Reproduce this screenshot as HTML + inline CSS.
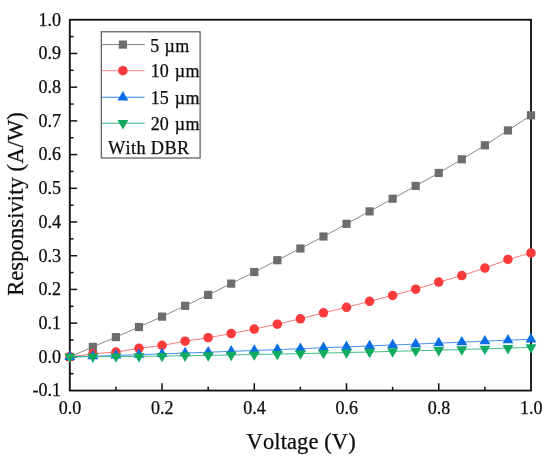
<!DOCTYPE html>
<html lang="en"><head><meta charset="utf-8"><title>Responsivity vs Voltage</title>
<style>html,body{margin:0;padding:0;background:#fff}svg{display:block}text{font-family:"Liberation Serif","Times New Roman",serif;fill:#0c0c0c;stroke:#0c0c0c;stroke-width:0.25px}</style>
</head><body>
<svg width="550" height="460" viewBox="0 0 550 460">
<rect width="550" height="460" fill="#fff"/>
<g stroke="#111" stroke-width="1.85" fill="none" stroke-linecap="butt">
<rect x="69.8" y="19.75" width="461.2" height="370.81"/>
</g>
<g stroke="#111" stroke-width="1.5" fill="none">
<line x1="69.8" y1="373.71" x2="73.55" y2="373.71"/>
<line x1="69.8" y1="356.85" x2="77.15" y2="356.85"/>
<line x1="69.8" y1="340" x2="73.55" y2="340"/>
<line x1="69.8" y1="323.14" x2="77.15" y2="323.14"/>
<line x1="69.8" y1="306.29" x2="73.55" y2="306.29"/>
<line x1="69.8" y1="289.43" x2="77.15" y2="289.43"/>
<line x1="69.8" y1="272.58" x2="73.55" y2="272.58"/>
<line x1="69.8" y1="255.72" x2="77.15" y2="255.72"/>
<line x1="69.8" y1="238.87" x2="73.55" y2="238.87"/>
<line x1="69.8" y1="222.01" x2="77.15" y2="222.01"/>
<line x1="69.8" y1="205.16" x2="73.55" y2="205.16"/>
<line x1="69.8" y1="188.3" x2="77.15" y2="188.3"/>
<line x1="69.8" y1="171.44" x2="73.55" y2="171.44"/>
<line x1="69.8" y1="154.59" x2="77.15" y2="154.59"/>
<line x1="69.8" y1="137.74" x2="73.55" y2="137.74"/>
<line x1="69.8" y1="120.88" x2="77.15" y2="120.88"/>
<line x1="69.8" y1="104.03" x2="73.55" y2="104.03"/>
<line x1="69.8" y1="87.17" x2="77.15" y2="87.17"/>
<line x1="69.8" y1="70.31" x2="73.55" y2="70.31"/>
<line x1="69.8" y1="53.46" x2="77.15" y2="53.46"/>
<line x1="69.8" y1="36.6" x2="73.55" y2="36.6"/>
<line x1="115.92" y1="390.56" x2="115.92" y2="386.81"/>
<line x1="162.04" y1="390.56" x2="162.04" y2="383.21"/>
<line x1="208.16" y1="390.56" x2="208.16" y2="386.81"/>
<line x1="254.28" y1="390.56" x2="254.28" y2="383.21"/>
<line x1="300.4" y1="390.56" x2="300.4" y2="386.81"/>
<line x1="346.52" y1="390.56" x2="346.52" y2="383.21"/>
<line x1="392.64" y1="390.56" x2="392.64" y2="386.81"/>
<line x1="438.76" y1="390.56" x2="438.76" y2="383.21"/>
<line x1="484.88" y1="390.56" x2="484.88" y2="386.81"/>
</g>
<g>
<polyline points="69.8,356.85 92.86,346.88 115.92,337.12 138.98,327.02 162.04,316.59 185.1,305.82 208.16,294.89 231.22,283.62 254.28,272.01 277.34,260.23 300.4,248.52 323.46,236.51 346.52,223.82 369.58,211.4 392.64,198.72 415.7,185.9 438.76,172.91 461.82,159.31 484.88,145.31 507.94,130.41 531,115.3" fill="none" stroke="#7d7d7d" stroke-width="0.9"/>
<rect x="65.7" y="352.75" width="8.2" height="8.2" fill="#6d6d6d"/>
<rect x="88.76" y="342.78" width="8.2" height="8.2" fill="#6d6d6d"/>
<rect x="111.82" y="333.02" width="8.2" height="8.2" fill="#6d6d6d"/>
<rect x="134.88" y="322.92" width="8.2" height="8.2" fill="#6d6d6d"/>
<rect x="157.94" y="312.49" width="8.2" height="8.2" fill="#6d6d6d"/>
<rect x="181" y="301.72" width="8.2" height="8.2" fill="#6d6d6d"/>
<rect x="204.06" y="290.79" width="8.2" height="8.2" fill="#6d6d6d"/>
<rect x="227.12" y="279.52" width="8.2" height="8.2" fill="#6d6d6d"/>
<rect x="250.18" y="267.91" width="8.2" height="8.2" fill="#6d6d6d"/>
<rect x="273.24" y="256.13" width="8.2" height="8.2" fill="#6d6d6d"/>
<rect x="296.3" y="244.42" width="8.2" height="8.2" fill="#6d6d6d"/>
<rect x="319.36" y="232.41" width="8.2" height="8.2" fill="#6d6d6d"/>
<rect x="342.42" y="219.72" width="8.2" height="8.2" fill="#6d6d6d"/>
<rect x="365.48" y="207.3" width="8.2" height="8.2" fill="#6d6d6d"/>
<rect x="388.54" y="194.62" width="8.2" height="8.2" fill="#6d6d6d"/>
<rect x="411.6" y="181.8" width="8.2" height="8.2" fill="#6d6d6d"/>
<rect x="434.66" y="168.81" width="8.2" height="8.2" fill="#6d6d6d"/>
<rect x="457.72" y="155.21" width="8.2" height="8.2" fill="#6d6d6d"/>
<rect x="480.78" y="141.21" width="8.2" height="8.2" fill="#6d6d6d"/>
<rect x="503.84" y="126.31" width="8.2" height="8.2" fill="#6d6d6d"/>
<rect x="526.9" y="111.2" width="8.2" height="8.2" fill="#6d6d6d"/>
<polyline points="69.8,356.85 92.86,353.82 115.92,352.09 138.98,348.36 162.04,345.36 185.1,341.22 208.16,337.66 231.22,333.59 254.28,329.04 277.34,324.23 300.4,318.81 323.46,312.82 346.52,307.34 369.58,301.35 392.64,295.39 415.7,289.2 438.76,282.1 461.82,275.61 484.88,268.07 507.94,259.46 531,252.93" fill="none" stroke="#f66a6a" stroke-width="0.9"/>
<circle cx="69.8" cy="356.85" r="4.75" fill="#fb3b3b"/>
<circle cx="92.86" cy="353.82" r="4.75" fill="#fb3b3b"/>
<circle cx="115.92" cy="352.09" r="4.75" fill="#fb3b3b"/>
<circle cx="138.98" cy="348.36" r="4.75" fill="#fb3b3b"/>
<circle cx="162.04" cy="345.36" r="4.75" fill="#fb3b3b"/>
<circle cx="185.1" cy="341.22" r="4.75" fill="#fb3b3b"/>
<circle cx="208.16" cy="337.66" r="4.75" fill="#fb3b3b"/>
<circle cx="231.22" cy="333.59" r="4.75" fill="#fb3b3b"/>
<circle cx="254.28" cy="329.04" r="4.75" fill="#fb3b3b"/>
<circle cx="277.34" cy="324.23" r="4.75" fill="#fb3b3b"/>
<circle cx="300.4" cy="318.81" r="4.75" fill="#fb3b3b"/>
<circle cx="323.46" cy="312.82" r="4.75" fill="#fb3b3b"/>
<circle cx="346.52" cy="307.34" r="4.75" fill="#fb3b3b"/>
<circle cx="369.58" cy="301.35" r="4.75" fill="#fb3b3b"/>
<circle cx="392.64" cy="295.39" r="4.75" fill="#fb3b3b"/>
<circle cx="415.7" cy="289.2" r="4.75" fill="#fb3b3b"/>
<circle cx="438.76" cy="282.1" r="4.75" fill="#fb3b3b"/>
<circle cx="461.82" cy="275.61" r="4.75" fill="#fb3b3b"/>
<circle cx="484.88" cy="268.07" r="4.75" fill="#fb3b3b"/>
<circle cx="507.94" cy="259.46" r="4.75" fill="#fb3b3b"/>
<circle cx="531" cy="252.93" r="4.75" fill="#fb3b3b"/>
<polyline points="69.8,356.85 92.86,356.22 115.92,355.48 138.98,354.71 162.04,353.9 185.1,353.07 208.16,352.23 231.22,351.36 254.28,350.49 277.34,349.6 300.4,348.7 323.46,347.79 346.52,346.87 369.58,345.94 392.64,345.01 415.7,344.06 438.76,343.11 461.82,342.16 484.88,341.2 507.94,340.23 531,339.25" fill="none" stroke="#2f83ec" stroke-width="0.9"/>
<polygon points="69.8,350.58 64.35,359.98 75.25,359.98" fill="#0b6de4"/>
<polygon points="92.86,349.95 87.41,359.35 98.31,359.35" fill="#0b6de4"/>
<polygon points="115.92,349.22 110.47,358.62 121.37,358.62" fill="#0b6de4"/>
<polygon points="138.98,348.44 133.53,357.84 144.43,357.84" fill="#0b6de4"/>
<polygon points="162.04,347.64 156.59,357.04 167.49,357.04" fill="#0b6de4"/>
<polygon points="185.1,346.81 179.65,356.21 190.55,356.21" fill="#0b6de4"/>
<polygon points="208.16,345.96 202.71,355.36 213.61,355.36" fill="#0b6de4"/>
<polygon points="231.22,345.1 225.77,354.5 236.67,354.5" fill="#0b6de4"/>
<polygon points="254.28,344.22 248.83,353.62 259.73,353.62" fill="#0b6de4"/>
<polygon points="277.34,343.33 271.89,352.73 282.79,352.73" fill="#0b6de4"/>
<polygon points="300.4,342.43 294.95,351.83 305.85,351.83" fill="#0b6de4"/>
<polygon points="323.46,341.52 318.01,350.92 328.91,350.92" fill="#0b6de4"/>
<polygon points="346.52,340.6 341.07,350 351.97,350" fill="#0b6de4"/>
<polygon points="369.58,339.67 364.13,349.07 375.03,349.07" fill="#0b6de4"/>
<polygon points="392.64,338.74 387.19,348.14 398.09,348.14" fill="#0b6de4"/>
<polygon points="415.7,337.8 410.25,347.2 421.15,347.2" fill="#0b6de4"/>
<polygon points="438.76,336.85 433.31,346.25 444.21,346.25" fill="#0b6de4"/>
<polygon points="461.82,335.89 456.37,345.29 467.27,345.29" fill="#0b6de4"/>
<polygon points="484.88,334.93 479.43,344.33 490.33,344.33" fill="#0b6de4"/>
<polygon points="507.94,333.96 502.49,343.36 513.39,343.36" fill="#0b6de4"/>
<polygon points="531,332.99 525.55,342.39 536.45,342.39" fill="#0b6de4"/>
<polyline points="69.8,356.85 92.86,356.76 115.92,356.58 138.98,356.34 162.04,356.05 185.1,355.73 208.16,355.37 231.22,354.97 254.28,354.54 277.34,354.08 300.4,353.6 323.46,353.08 346.52,352.55 369.58,351.98 392.64,351.39 415.7,350.78 438.76,350.15 461.82,349.5 484.88,348.82 507.94,348.13 531,347.41" fill="none" stroke="#2fb877" stroke-width="0.9"/>
<polygon points="69.8,363.12 64.35,353.72 75.25,353.72" fill="#10ab5e"/>
<polygon points="92.86,363.02 87.41,353.62 98.31,353.62" fill="#10ab5e"/>
<polygon points="115.92,362.84 110.47,353.44 121.37,353.44" fill="#10ab5e"/>
<polygon points="138.98,362.61 133.53,353.21 144.43,353.21" fill="#10ab5e"/>
<polygon points="162.04,362.32 156.59,352.92 167.49,352.92" fill="#10ab5e"/>
<polygon points="185.1,362 179.65,352.6 190.55,352.6" fill="#10ab5e"/>
<polygon points="208.16,361.63 202.71,352.23 213.61,352.23" fill="#10ab5e"/>
<polygon points="231.22,361.24 225.77,351.84 236.67,351.84" fill="#10ab5e"/>
<polygon points="254.28,360.81 248.83,351.41 259.73,351.41" fill="#10ab5e"/>
<polygon points="277.34,360.35 271.89,350.95 282.79,350.95" fill="#10ab5e"/>
<polygon points="300.4,359.86 294.95,350.46 305.85,350.46" fill="#10ab5e"/>
<polygon points="323.46,359.35 318.01,349.95 328.91,349.95" fill="#10ab5e"/>
<polygon points="346.52,358.81 341.07,349.41 351.97,349.41" fill="#10ab5e"/>
<polygon points="369.58,358.25 364.13,348.85 375.03,348.85" fill="#10ab5e"/>
<polygon points="392.64,357.66 387.19,348.26 398.09,348.26" fill="#10ab5e"/>
<polygon points="415.7,357.05 410.25,347.65 421.15,347.65" fill="#10ab5e"/>
<polygon points="438.76,356.42 433.31,347.02 444.21,347.02" fill="#10ab5e"/>
<polygon points="461.82,355.76 456.37,346.36 467.27,346.36" fill="#10ab5e"/>
<polygon points="484.88,355.09 479.43,345.69 490.33,345.69" fill="#10ab5e"/>
<polygon points="507.94,354.39 502.49,344.99 513.39,344.99" fill="#10ab5e"/>
<polygon points="531,353.68 525.55,344.28 536.45,344.28" fill="#10ab5e"/>
</g>
<g font-size="18" text-anchor="end">
<text x="61.1" y="396.36">-0.1</text>
<text x="61.1" y="362.65">0.0</text>
<text x="61.1" y="328.94">0.1</text>
<text x="61.1" y="295.23">0.2</text>
<text x="61.1" y="261.52">0.3</text>
<text x="61.1" y="227.81">0.4</text>
<text x="61.1" y="194.1">0.5</text>
<text x="61.1" y="160.39">0.6</text>
<text x="61.1" y="126.68">0.7</text>
<text x="61.1" y="92.97">0.8</text>
<text x="61.1" y="59.26">0.9</text>
<text x="61.1" y="25.55">1.0</text>
</g>
<g font-size="18" text-anchor="middle">
<text x="70" y="413.6">0.0</text>
<text x="162.24" y="413.6">0.2</text>
<text x="254.48" y="413.6">0.4</text>
<text x="346.72" y="413.6">0.6</text>
<text x="438.96" y="413.6">0.8</text>
<text x="531.2" y="413.6">1.0</text>
</g>
<text x="301.2" y="448.7" font-size="22.5" text-anchor="middle" letter-spacing="0.1" style="font-kerning:none">Voltage (V)</text>
<text transform="translate(22.5 204) rotate(-90)" font-size="22.5" text-anchor="middle" letter-spacing="0.1" style="font-kerning:none">Responsivity (A/W)</text>
<rect x="101.3" y="31.8" width="98.8" height="126.2" fill="#fff" stroke="#505050" stroke-width="1.15"/>
<line x1="101.6" y1="44.6" x2="144.7" y2="44.6" stroke="#7d7d7d" stroke-width="1"/>
<rect x="118.8" y="40.5" width="8.2" height="8.2" fill="#6d6d6d"/>
<text font-size="18" y="52"><tspan x="150.2">5 </tspan><tspan x="164.6">µ</tspan><tspan x="175.2">m</tspan></text>
<line x1="101.6" y1="70.7" x2="144.7" y2="70.7" stroke="#f98585" stroke-width="1"/>
<circle cx="122.9" cy="70.7" r="4.75" fill="#fb3b3b"/>
<text font-size="18" y="77.4"><tspan x="150.7">10 </tspan><tspan x="174.8">µ</tspan><tspan x="185.4">m</tspan></text>
<line x1="101.6" y1="97.25" x2="144.7" y2="97.25" stroke="#2f83ec" stroke-width="1"/>
<polygon points="122.9,90.98 117.45,100.38 128.35,100.38" fill="#0b6de4"/>
<text font-size="18" y="103.8"><tspan x="150.7">15 </tspan><tspan x="174.8">µ</tspan><tspan x="185.4">m</tspan></text>
<line x1="101.6" y1="123.2" x2="144.7" y2="123.2" stroke="#2fb877" stroke-width="1"/>
<polygon points="122.9,129.47 117.45,120.07 128.35,120.07" fill="#10ab5e"/>
<text font-size="18" y="129.9"><tspan x="150.7">20 </tspan><tspan x="174.8">µ</tspan><tspan x="185.4">m</tspan></text>
<text x="108" y="154.2" font-size="18.3" letter-spacing="0.35" style="font-kerning:none">With DBR</text>
</svg>
</body></html>
